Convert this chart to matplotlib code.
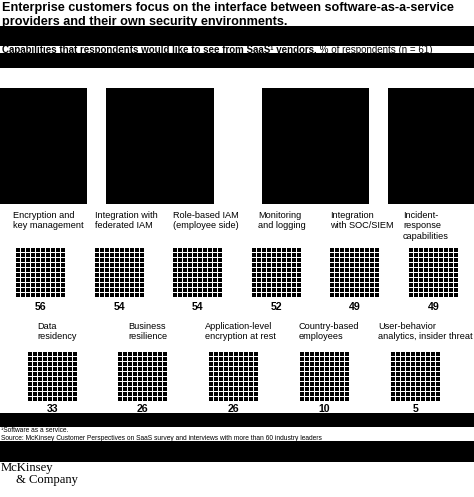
import matplotlib
matplotlib.use("Agg")
import matplotlib.pyplot as plt
from matplotlib.patches import Rectangle
import matplotlib.transforms as mtrans

plt.rcParams['font.family'] = ['Liberation Sans', 'DejaVu Sans']

# ---- data ----
title_lines = ["Enterprise customers focus on the interface between software-as-a-service",
               "providers and their own security environments."]
subtitle_bold = "Capabilities that respondents would like to see from SaaS\u00b9 vendors,"
subtitle_reg = " % of respondents (n = 61)"
row1_labels = ["Encryption and\nkey management", "Integration with\nfederated IAM",
               "Role-based IAM\n(employee side)", "Monitoring\nand logging",
               "Integration\nwith SOC/SIEM", "Incident-\nresponse\ncapabilities"]
row1_values = [56, 54, 54, 52, 49, 49]
row2_labels = ["Data\nresidency", "Business\nresilience", "Application-level\nencryption at rest",
               "Country-based\nemployees", "User-behavior\nanalytics, insider threat"]
row2_values = [33, 26, 26, 10, 5]
footnote = "\u00b9Software as a service."
source = "Source: McKinsey Customer Perspectives on SaaS survey and interviews with more than 60 industry leaders"

# ---- layout (pixels) ----
W, H = 474, 497
row1_grid_x = [16, 95, 173, 252, 330, 409]
row1_label_x = [13, 95, 173, 258, 330, 403]
row2_grid_x = [28, 118, 209, 300, 391]
row2_label_x = [37, 128, 205, 299, 378]
pitch, cell = 5, 4
grid_size = 10 * pitch - (pitch - cell)
row1_grid_top, row2_grid_top = 248, 352
row1_label_top, row2_label_top = 211, 322
row1_value_y, row2_value_y = 307, 409
fill_color = "#000000"
empty_color = "#000000"
black_blocks = [(0, 26, 474, 46), (0, 53, 474, 68),
                (0, 88, 87, 204), (106, 88, 214, 204), (262, 88, 369, 204), (388, 88, 474, 204),
                (0, 413, 474, 427), (0, 441, 474, 462)]

fig = plt.figure(figsize=(W / 100, H / 100), dpi=100)
ax = fig.add_axes([0, 0, 1, 1])
ax.set_xlim(0, W)
ax.set_ylim(H, 0)
ax.axis("off")

PX = 72 / 100  # points per pixel

# title
ax.text(2, 7.5, title_lines[0], fontsize=12.65 * PX, fontweight="bold", va="center", ha="left")
ax.text(2, 21.5, title_lines[1], fontsize=12.65 * PX, fontweight="bold", va="center", ha="left")

# subtitle
t = ax.text(2, 50, subtitle_bold, fontsize=9.8 * PX, fontweight="bold", va="center", ha="left")
fig.canvas.draw()
bb = t.get_window_extent()
ax.text(bb.x1, 50, subtitle_reg, fontsize=9.8 * PX, va="center", ha="left",
        transform=mtrans.blended_transform_factory(mtrans.IdentityTransform(), ax.transData))


def waffle(x0, y0, value):
    for k in range(100):
        r, c = divmod(k, 10)
        color = fill_color if k < value else empty_color
        ax.add_patch(Rectangle((x0 + c * pitch, y0 + r * pitch), cell, cell,
                               facecolor=color, edgecolor="none", zorder=2))


for lab, val, gx, lx in zip(row1_labels, row1_values, row1_grid_x, row1_label_x):
    ax.text(lx, row1_label_top, lab, fontsize=9.2 * PX, va="top", ha="left", linespacing=1.18)
    waffle(gx, row1_grid_top, val)
    ax.text(gx + grid_size / 2, row1_value_y, str(val), fontsize=10.5 * PX, fontweight="bold",
            va="center", ha="center")

for lab, val, gx, lx in zip(row2_labels, row2_values, row2_grid_x, row2_label_x):
    ax.text(lx, row2_label_top, lab, fontsize=9.2 * PX, va="top", ha="left", linespacing=1.18)
    waffle(gx, row2_grid_top, val)
    ax.text(gx + grid_size / 2, row2_value_y, str(val), fontsize=10.5 * PX, fontweight="bold",
            va="center", ha="center")

# footnotes
ax.text(1, 431, footnote, fontsize=6.6 * PX, va="center", ha="left")
ax.text(1, 438.5, source, fontsize=6.6 * PX, va="center", ha="left")

# black blocks
for (x0, y0, x1, y1) in black_blocks:
    ax.add_patch(Rectangle((x0, y0), x1 - x0, y1 - y0, facecolor="black", edgecolor="none", zorder=5))

# logo
ax.text(1, 467.5, "McKinsey", fontsize=12.6 * PX, family="Liberation Serif", va="center", ha="left")
ax.text(16, 479.5, "& Company", fontsize=12.6 * PX, family="Liberation Serif", va="center", ha="left")

fig.savefig("out.png", dpi=100)
